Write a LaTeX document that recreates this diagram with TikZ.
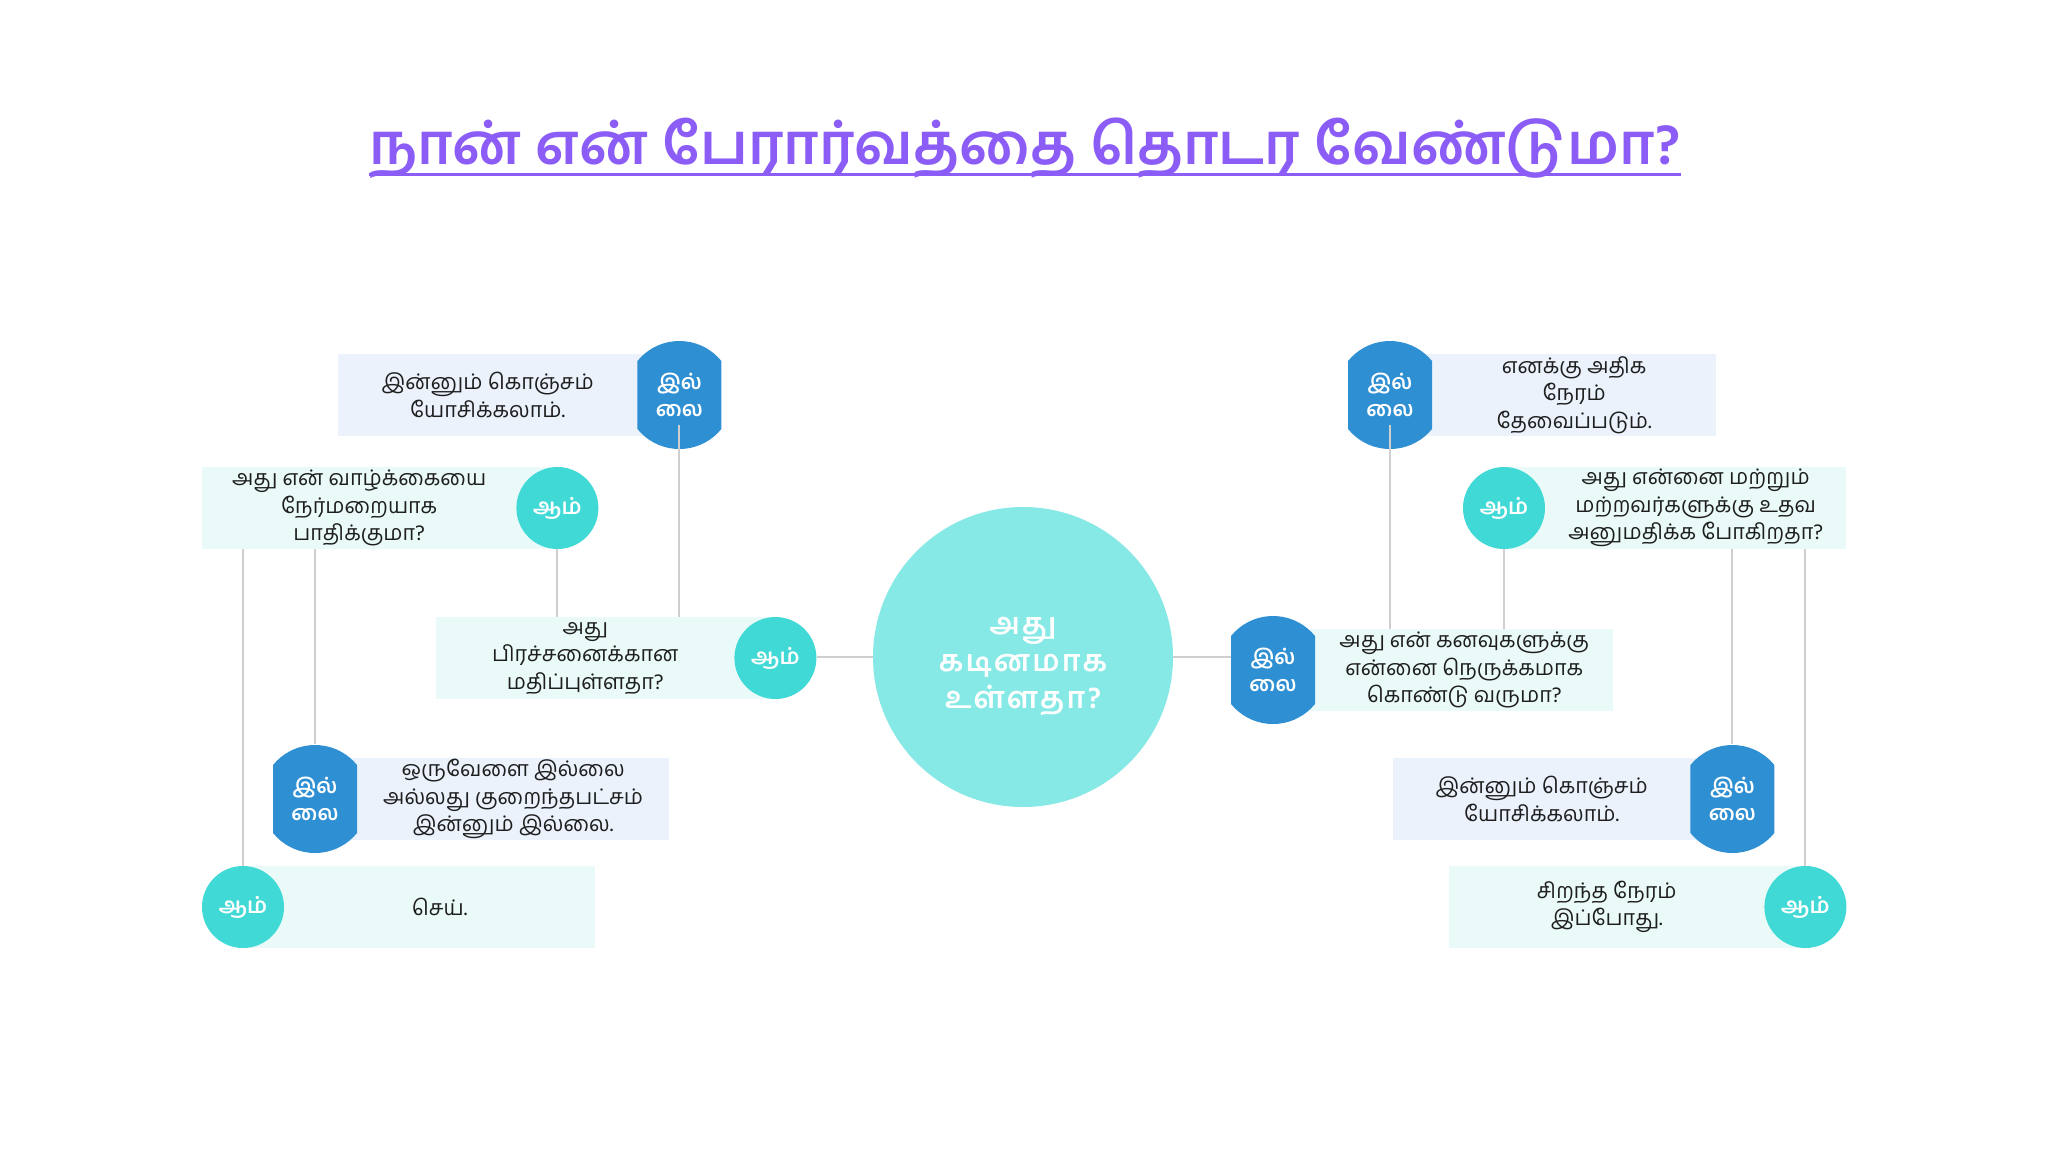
\documentclass[tikz,border=0pt]{standalone}
\usepackage{fontspec}
\setmainfont{Hind Madurai}[Script=Tamil]
\newfontfamily\hubfont{Hind Madurai}[Script=Tamil,LetterSpace=7]
\definecolor{titlecol}{HTML}{8B5CF6}
\definecolor{nocol}{HTML}{2E8FD3}
\definecolor{yescol}{HTML}{41D9D5}
\definecolor{hubcol}{HTML}{87E9E6}
\definecolor{nobg}{HTML}{EBF2FC}
\definecolor{yesbg}{HTML}{E9FAF8}
\definecolor{linecol}{HTML}{CFCFCF}
\definecolor{ink}{HTML}{1E1E1E}
\tikzset{
  hub/.style={circle,fill=hubcol,minimum size=300pt,inner sep=0pt,text=white,align=center,
    font=\hubfont\bfseries\fontsize{30}{37}\selectfont},
  yes/.style={circle,fill=yescol,minimum size=82pt,inner sep=0pt,text=white,
    font=\bfseries\fontsize{22}{26}\selectfont},
  no/.style={rectangle,minimum width=84pt,minimum height=110pt,inner sep=0pt,text=white,align=center,
    font=\bfseries\fontsize{21}{27}\selectfont,
    path picture={\fill[nocol] (path picture bounding box.center) circle (54pt);}},
  nobox/.style={fill=nobg,minimum height=82pt,inner sep=0pt,align=center,text=ink,
    font=\fontsize{21.5}{27.5}\selectfont},
  yesbox/.style={nobox,fill=yesbg},
  link/.style={draw=linecol,line width=2pt}
}
\begin{document}
\begin{tikzpicture}[x=1pt,y=-1pt]
\useasboundingbox[fill=white] (0,0) rectangle (2048,1152);

\node[inner sep=0pt,text=titlecol,font=\bfseries\fontsize{57}{60}\selectfont] (ttl) at (1025,148)
  {நான் என் பேரார்வத்தை தொடர வேண்டுமா?};
\draw[titlecol,line width=3.5pt] ([yshift=-10pt]ttl.base west) -- ([yshift=-10pt]ttl.base east);

\node[hub] (hub) at (1023,657) {\raisebox{-7pt}[\height][\depth]{\begin{tabular}{@{}c@{}}அது\\கடினமாக\\உள்ளதா?\end{tabular}}};

% left branch
\node[yesbox,minimum width=298pt,anchor=west] (boxD) at (436,658) {அது\\பிரச்சனைக்கான\\மதிப்புள்ளதா?};
\fill[yesbg] (boxD.north east) rectangle ([xshift=41pt]boxD.south east);
\node[yes] (yD) at ([xshift=41pt]boxD.east) {ஆம்};

\node[nobox,minimum width=299pt,anchor=west] (boxA) at (338,395) {இன்னும் கொஞ்சம்\\யோசிக்கலாம்.};
\fill[nobg] (boxA.north east) rectangle ([xshift=42pt]boxA.south east);
\node[no] (nA) at ([xshift=42pt]boxA.east) {இல்\\லை};

\node[yesbox,minimum width=314pt,anchor=west] (boxC) at (202,508) {அது என் வாழ்க்கையை\\நேர்மறையாக\\பாதிக்குமா?};
\fill[yesbg] (boxC.north east) rectangle ([xshift=41pt]boxC.south east);
\node[yes] (yC) at ([xshift=41pt]boxC.east) {ஆம்};

\node[nobox,minimum width=312pt,anchor=west] (boxE) at (357,799) {ஒருவேளை இல்லை\\அல்லது குறைந்தபட்சம்\\இன்னும் இல்லை.};
\fill[nobg] (boxE.north west) rectangle ([xshift=-42pt]boxE.south west);
\node[no] (nE) at ([xshift=-42pt]boxE.west) {இல்\\லை};

\node[yesbox,minimum width=311pt,anchor=west] (boxF) at (284,907) {செய்.};
\fill[yesbg] (boxF.north west) rectangle ([xshift=-41pt]boxF.south west);
\node[yes] (yF) at ([xshift=-41pt]boxF.west) {ஆம்};

% right branch
\node[yesbox,minimum width=298pt,anchor=west] (boxI) at (1315,670) {அது என் கனவுகளுக்கு\\என்னை நெருக்கமாக\\கொண்டு வருமா?};
\fill[yesbg] (boxI.north west) rectangle ([xshift=-42pt]boxI.south west);
\node[no] (nI) at ([xshift=-42pt]boxI.west) {இல்\\லை};

\node[nobox,minimum width=284pt,anchor=west] (boxG) at (1432,395) {எனக்கு அதிக\\நேரம்\\தேவைப்படும்.};
\fill[nobg] (boxG.north west) rectangle ([xshift=-42pt]boxG.south west);
\node[no] (nG) at ([xshift=-42pt]boxG.west) {இல்\\லை};

\node[yesbox,minimum width=301pt,anchor=west] (boxH) at (1545,508) {அது என்னை மற்றும்\\மற்றவர்களுக்கு உதவ\\அனுமதிக்க போகிறதா?};
\fill[yesbg] (boxH.north west) rectangle ([xshift=-41pt]boxH.south west);
\node[yes] (yH) at ([xshift=-41pt]boxH.west) {ஆம்};

\node[nobox,minimum width=297pt,anchor=west] (boxJ) at (1393,799) {இன்னும் கொஞ்சம்\\யோசிக்கலாம்.};
\fill[nobg] (boxJ.north east) rectangle ([xshift=42pt]boxJ.south east);
\node[no] (nJ) at ([xshift=42pt]boxJ.east) {இல்\\லை};

\node[yesbox,minimum width=315pt,anchor=west] (boxK) at (1449,907) {சிறந்த நேரம்\\இப்போது.};
\fill[yesbg] (boxK.north east) rectangle ([xshift=41pt]boxK.south east);
\node[yes] (yK) at ([xshift=41pt]boxK.east) {ஆம்};

% connectors
\draw[link] (hub.west) -- (hub.west -| yD.east);
\draw[link] (hub.east) -- (hub.east -| nI.west);
\draw[link] ([yshift=-30pt]nA.center) -- (nA.center |- boxD.north);
\draw[link] (yC.south) -- (yC.south |- boxD.north);
\draw[link] (boxC.south -| nE.center) -- (nE.north);
\draw[link] (boxC.south -| yF.center) -- (yF.north);
\draw[link] ([yshift=-30pt]nG.center) -- (nG.center |- boxI.north);
\draw[link] (yH.south) -- (yH.south |- boxI.north);
\draw[link] (boxH.south -| nJ.center) -- (nJ.north);
\draw[link] (boxH.south -| yK.center) -- (yK.north);
\end{tikzpicture}
\end{document}
